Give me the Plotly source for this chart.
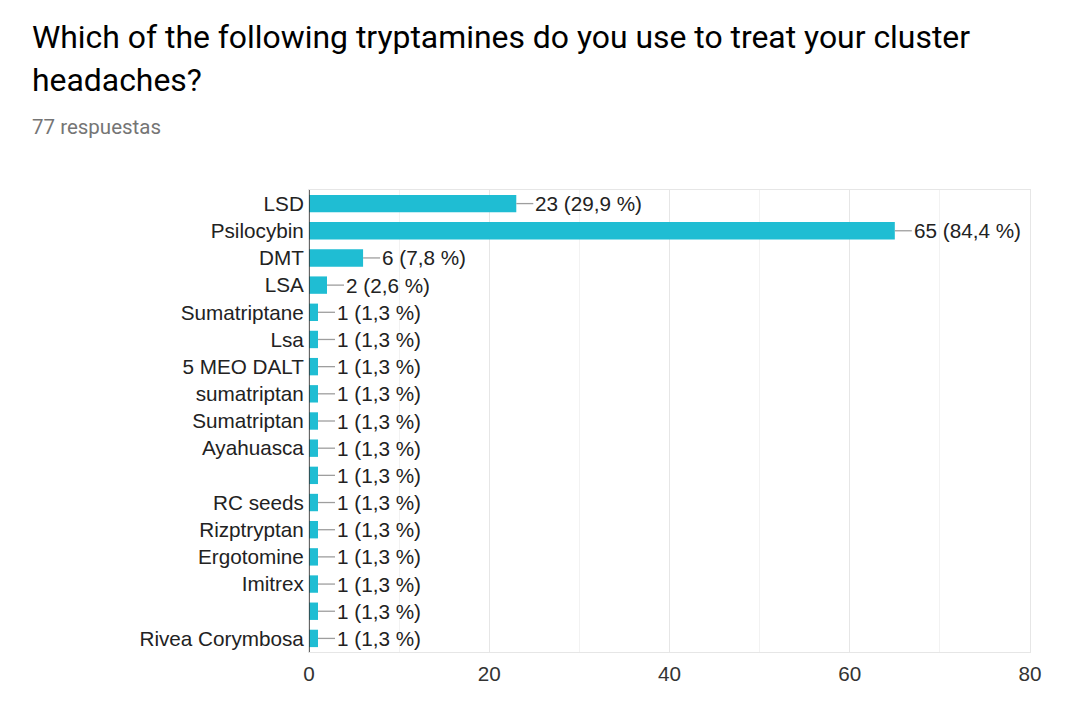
import plotly.graph_objects as go

categories = ["LSD", "Psilocybin", "DMT", "LSA", "Sumatriptane", "Lsa", "5 MEO DALT",
              "sumatriptan", "Sumatriptan", "Ayahuasca", "", "RC seeds", "Rizptryptan",
              "Ergotomine", "Imitrex", "", "Rivea Corymbosa"]
counts = [23, 65, 6, 2, 1, 1, 1, 1, 1, 1, 1, 1, 1, 1, 1, 1, 1]
total_responses = 77
x_ticks = [0, 20, 40, 60, 80]

title_lines = ["Which of the following tryptamines do you use to treat your cluster", "headaches?"]
subtitle = f"{total_responses} respuestas"

OFF = 8  # page body margin
W, H = 1092 - OFF, 724 - OFF
L = 309 - OFF
T = 190 - OFF
R = W - (1030 - OFF)
B = H - (652 - OFF)
pw, ph = W - L - R, H - T - B

def px_x(p):  # page pixel -> paper
    return (p - OFF - L) / pw

def px_y(p):
    return (H - B - (p - OFF)) / ph

ypos = list(range(len(categories)))
labels = [f"{c} ({c / total_responses * 100:.1f} %)".replace(".", ",") for c in counts]

FS = 20.7
fig = go.Figure()
fig.add_trace(go.Bar(
    x=counts, y=ypos, orientation="h",
    marker=dict(color="#1FBDD3", line=dict(width=0)),
    width=0.64, hoverinfo="skip",
))

LEAD = 17
for v, y, t in zip(counts, ypos, labels):
    fig.add_shape(type="line", xref="x", yref="y", xsizemode="pixel", xanchor=v,
                  x0=0, x1=LEAD, y0=y, y1=y, line=dict(color="#9e9e9e", width=1.3))
    fig.add_annotation(x=v, y=y, xref="x", yref="y", text=t, showarrow=False,
                       xanchor="left", yanchor="middle", xshift=LEAD,
                       font=dict(family="Liberation Sans, Arial", size=FS, color="#222222"))

fig.add_annotation(x=px_x(30), y=px_y(36.5), xref="paper", yref="paper", text=title_lines[0],
                   showarrow=False, xanchor="left", yanchor="middle",
                   font=dict(family="Roboto", size=31.9, color="#000000"))
fig.add_annotation(x=px_x(30), y=px_y(80.5), xref="paper", yref="paper", text=title_lines[1],
                   showarrow=False, xanchor="left", yanchor="middle",
                   font=dict(family="Roboto", size=31.9, color="#000000"))
fig.add_annotation(x=px_x(30), y=px_y(127), xref="paper", yref="paper", text=subtitle,
                   showarrow=False, xanchor="left", yanchor="middle",
                   font=dict(family="Roboto", size=20.5, color="#757575"))

fig.update_layout(
    width=W, height=H,
    margin=dict(l=L, r=R, t=T, b=B, pad=0),
    paper_bgcolor="white", plot_bgcolor="white",
    showlegend=False,
    font=dict(family="Liberation Sans, Arial", size=FS, color="#222222"),
    xaxis=dict(range=[0, 80], tickvals=x_ticks, showgrid=True, gridcolor="#e6e6e6", gridwidth=1,
               minor=dict(dtick=10, tick0=0, showgrid=True, gridcolor="#f2f2f2", gridwidth=1),
               zeroline=False, showline=True, linecolor="#e6e6e6", mirror=True,
               ticks="outside", ticklen=3, tickcolor="rgba(0,0,0,0)",
               tickfont=dict(family="Liberation Sans, Arial", size=FS, color="#333333"),
               fixedrange=True),
    yaxis=dict(range=[len(categories) - 0.5, -0.5], tickvals=ypos, ticktext=categories,
               showgrid=False, zeroline=False, showline=True, linecolor="#e6e6e6", mirror=True,
               ticks="",
               tickfont=dict(family="Liberation Sans, Arial", size=FS, color="#222222"),
               fixedrange=True),
)
fig.add_shape(type="line", xref="x", yref="paper", x0=0, x1=0, y0=0, y1=1,
              line=dict(color="#333333", width=1.5))

fig.write_html("out.html")
